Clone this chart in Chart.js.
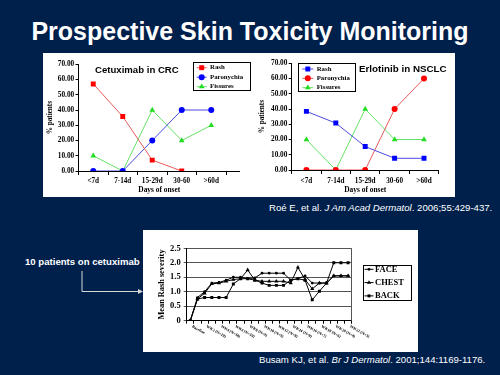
<!DOCTYPE html>
<html>
<head>
<meta charset="utf-8">
<title>Prospective Skin Toxicity Monitoring</title>
<script src="https://cdn.jsdelivr.net/npm/chart.js@4.4.1/dist/chart.umd.min.js"></script>
<style>
  html, body { margin: 0; padding: 0; }
  body { width: 500px; height: 375px; background: #00204c; position: relative; overflow: hidden;
         font-family: "Liberation Sans", Arial, sans-serif; }
  .txt { position: absolute; white-space: nowrap; }
  #title { left: 0; width: 500px; top: 16px; text-align: center; color: #fff; font-weight: bold; font-size: 25px; line-height: 30px; }
  .panel { position: absolute; background: #fff; }
  canvas { position: absolute; }
  .ctitle { font-weight: bold; color: #000; line-height: 10px; }
  .cite { color: #fff; font-size: 9.6px; line-height: 10px; }
  #note { color: #fff; font-weight: bold; font-size: 9.6px; line-height: 10px; left: 25px; top: 257px; }
</style>
</head>
<body>
<div id="title" class="txt">Prospective Skin Toxicity Monitoring</div>
<div class="panel" style="left:43px; top:53px; width:412px; height:144px;"></div>
<div class="panel" style="left:143px; top:230px; width:275px; height:122px;"></div>
<canvas id="cetux" width="212" height="144" style="left:43px; top:53px;"></canvas>
<canvas id="erlo" width="200" height="144" style="left:255px; top:53px;"></canvas>
<canvas id="busam" width="275" height="122" style="left:143px; top:230px;"></canvas>
<div class="txt ctitle" style="left:95px; top:65px; font-size:9.6px;">Cetuximab in CRC</div>
<div class="txt ctitle" style="left:359px; top:64px; font-size:9.8px;">Erlotinib in NSCLC</div>
<div class="txt cite" style="left:269px; top:203px;">Roé E, et al. <i>J Am Acad Dermatol</i>. 2006;55:429-437.</div>
<div class="txt cite" style="left:259px; top:355px;">Busam KJ, et al. <i>Br J Dermatol</i>. 2001;144:1169-1176.</div>
<div id="note" class="txt">10 patients on cetuximab</div>
<svg class="txt" style="left:0; top:0;" width="500" height="375">
  <polyline points="82,271 82,291.5 139,291.5" fill="none" stroke="#d8d8d8" stroke-width="1"/>
  <polygon points="143,291.5 138,289 138,294" fill="#d8d8d8"/>
</svg>

<script>
// Roé et al. - % patients by days of onset
const onsetDays = ['<7d', '7-14d', '15-29d', '30-60', '>60d'];
const cetuxRash = [57.14, 35.71, 7.14, 0, null];
const cetuxParonychia = [0, 0, 20, 40, 40];
const cetuxFissures = [10, 0, 40, 20, 30];
const erloRash = [38.46, 30.77, 15.38, 7.69, 7.69];
const erloParonychia = [0, 0, 0, 40, 60];
const erloFissures = [20, 0, 40, 20, 20];

// Busam et al. - mean rash severity, baseline to week 22
const weekLabels = ['Baseline', '', 'WK2 (N=10)', '', 'WK4 (N=10)', '', 'WK6 (N=10)', '', 'WK8 (N=9)', '',
  'WK10 (N=9)', '', 'WK12 (N=8)', '', 'WK14 (N=8)', '', 'WK16 (N=7)', '', 'WK18 (N=6)', '', 'WK20 (N=4)', '', 'WK22 (N=3)'];
const faceScore = [0, 0.8, 1.0, 1.3, 1.32, 1.4, 1.5, 1.5, 1.45, 1.48, 1.64, 1.64, 1.64, 1.64, 1.4, 1.45, 1.55, 1.3, 1.3, 1.3, 1.55, 1.55, 1.55];
const chestScore = [0, 0.75, 0.95, 1.27, 1.3, 1.36, 1.42, 1.45, 1.75, 1.4, 1.36, 1.36, 1.36, 1.36, 1.3, 1.84, 1.42, 1.1, 1.3, 1.3, 1.55, 1.55, 1.55];
const backScore = [0, 0.75, 0.8, 0.8, 0.8, 0.8, 1.27, 1.45, 1.45, 1.4, 1.3, 1.22, 1.22, 1.22, 1.4, 1.45, 1.4, 0.72, 1.02, 1.3, 2.0, 2.0, 2.0];

const ink = '#000';
const serif = '"Liberation Serif", "Times New Roman", serif';
const bold = size => ({ family: serif, size: size, weight: 'bold' });

function drawMarker(ctx, style, x, y, r, color) {
    ctx.fillStyle = color;
    ctx.beginPath();
    if (style === 'rect') {
        const s = r * Math.SQRT1_2;
        ctx.rect(x - s, y - s, 2 * s, 2 * s);
    } else if (style === 'triangle') {
        ctx.moveTo(x, y - r);
        ctx.lineTo(x + r * 0.866, y + r * 0.5);
        ctx.lineTo(x - r * 0.866, y + r * 0.5);
        ctx.closePath();
    } else {
        ctx.arc(x, y, r, 0, Math.PI * 2);
    }
    ctx.fill();
}

// boxed legend like the original figures
const boxLegend = {
    id: 'boxLegend',
    afterDraw(chart, args, o) {
        const ctx = chart.ctx;
        ctx.save();
        ctx.strokeStyle = ink;
        ctx.lineWidth = 1;
        ctx.strokeRect(Math.round(o.x) + 0.5, Math.round(o.y) + 0.5, Math.round(o.w), Math.round(o.h));
        ctx.font = 'bold ' + o.size + 'px ' + serif;
        ctx.textBaseline = 'middle';
        ctx.textAlign = 'left';
        chart.data.datasets.forEach((ds, i) => {
            const y = o.y + o.first + i * o.step;
            ctx.strokeStyle = ds.borderColor;
            ctx.lineWidth = ds.borderWidth;
            ctx.beginPath();
            ctx.moveTo(o.lx, y);
            ctx.lineTo(o.lx + o.lw, y);
            ctx.stroke();
            drawMarker(ctx, ds.pointStyle, o.lx + o.lw / 2, y, ds.pointRadius, ds.pointBackgroundColor);
            ctx.fillStyle = ink;
            ctx.fillText(ds.label, o.tx, y);
        });
        ctx.restore();
    }
};

// axis extension, x titles, plot frame, slanted week labels
const decor = {
    id: 'decor',
    afterDraw(chart, args, o) {
        const { ctx, chartArea: a } = chart;
        const yb = Math.round(a.bottom - 0.5) + 0.5;
        ctx.save();
        ctx.strokeStyle = ink;
        ctx.lineWidth = 1;
        if (o.extend) {
            ctx.beginPath();
            ctx.moveTo(a.right, yb);
            ctx.lineTo(a.right + o.extend, yb);
            ctx.stroke();
        }
        if (o.frame) {
            const xr = Math.round(a.right - 0.5) + 0.5;
            ctx.strokeStyle = '#555';
            ctx.beginPath();
            ctx.moveTo(xr, a.top);
            ctx.lineTo(xr, a.bottom);
            ctx.stroke();
        }
        ctx.fillStyle = ink;
        if (o.xTitle) {
            ctx.font = 'bold ' + o.xTitleSize + 'px ' + serif;
            ctx.textAlign = 'center';
            ctx.textBaseline = 'middle';
            ctx.fillText(o.xTitle, (a.left + a.right + (o.extend || 0)) / 2, o.xTitleY);
        }
        if (o.slant) {
            const xs = chart.scales.x;
            ctx.font = 'bold ' + o.slantSize + 'px ' + serif;
            ctx.textAlign = 'left';
            ctx.textBaseline = 'middle';
            chart.data.labels.forEach((t, i) => {
                if (!t) return;
                ctx.save();
                ctx.translate(xs.getPixelForValue(i) + 2, a.bottom + 5.5);
                ctx.rotate(0.52);
                ctx.fillText(t, 0, 0);
                ctx.restore();
            });
        }
        ctx.restore();
    }
};

function series(label, data, line, fill, style, r) {
    return {
        label: label, data: data, borderColor: line, borderWidth: 1, tension: 0,
        pointStyle: style, pointRadius: r, pointBackgroundColor: fill,
        pointBorderColor: fill, pointBorderWidth: 0
    };
}

function topChart(id, datasets, pad, yWidth, xHeight, tickPad, legend, extras) {
    return new Chart(document.getElementById(id), {
        type: 'line',
        data: { labels: onsetDays, datasets: datasets },
        options: {
            responsive: false,
            animation: false,
            layout: { padding: pad },
            plugins: {
                legend: { display: false },
                tooltip: { enabled: false },
                boxLegend: legend,
                decor: extras
            },
            scales: {
                x: {
                    type: 'category',
                    offset: true,
                    grid: { offset: true, drawOnChartArea: false, tickLength: 4, color: ink },
                    border: { color: ink, width: 1 },
                    ticks: { color: ink, font: bold(7.2), padding: tickPad, maxRotation: 0, autoSkip: false },
                    afterFit: s => { s.height = xHeight; }
                },
                y: {
                    min: 0,
                    max: 70,
                    ticks: { stepSize: 10, color: ink, font: bold(7.3), padding: 1.3, callback: v => v.toFixed(2) },
                    grid: { drawOnChartArea: false, tickLength: 3, color: ink },
                    border: { color: ink, width: 1 },
                    title: { display: true, text: '% patients', color: ink, font: bold(7.2), padding: { top: 3, bottom: 0 } },
                    afterFit: s => { s.width = yWidth; }
                }
            }
        },
        plugins: [boxLegend, decor]
    });
}

topChart('cetux', [
    series('Rash', cetuxRash, '#e65a5a', '#ff0000', 'rect', 3.5),
    series('Paronychia', cetuxParonychia, '#4a4ae0', '#0000ff', 'circle', 3),
    series('Fissures', cetuxFissures, '#66e066', '#22dd22', 'triangle', 3.3)
], { left: 0, top: 11.3, right: 29, bottom: 0 }, 35.5, 26, 1.5,
   { x: 150.3, y: 9.3, w: 56.7, h: 27.7, first: 5.4, step: 9.5, lx: 153.7, lw: 10, tx: 167, size: 6.8 },
   { extend: 14, xTitle: 'Days of onset', xTitleY: 137, xTitleSize: 7.4 });

topChart('erlo', [
    series('Rash', erloRash, '#4a4ae0', '#0000ff', 'rect', 3.5),
    series('Paronychia', erloParonychia, '#e65a5a', '#ff0000', 'circle', 3),
    series('Fissures', erloFissures, '#66e066', '#22dd22', 'triangle', 3.3)
], { left: 0, top: 10.3, right: 16.3, bottom: 0 }, 36.7, 27, 2.5,
   { x: 43.3, y: 10.3, w: 56.7, h: 28.4, first: 5.7, step: 9.35, lx: 47.3, lw: 11, tx: 61.7, size: 6.8 },
   { extend: 0, xTitle: 'Days of onset', xTitleY: 137, xTitleSize: 7.4 });

// Busam chart
new Chart(document.getElementById('busam'), {
    type: 'line',
    data: {
        labels: weekLabels,
        datasets: [
            series('FACE', faceScore, ink, ink, 'circle', 1.4),
            series('CHEST', chestScore, ink, ink, 'triangle', 2.4),
            series('BACK', backScore, ink, ink, 'rect', 2.1)
        ]
    },
    options: {
        responsive: false,
        animation: false,
        layout: { padding: { left: 0, top: 18.3, right: 66.3, bottom: 0 } },
        plugins: {
            legend: { display: false },
            tooltip: { enabled: false },
            boxLegend: { x: 219.7, y: 35, w: 48, h: 35, first: 4.3, step: 13.3, lx: 221.5, lw: 9, tx: 232, size: 8.5 },
            decor: { frame: true, slant: true, slantSize: 4 }
        },
        scales: {
            x: {
                type: 'category',
                offset: true,
                grid: { offset: true, drawOnChartArea: false, tickLength: 3, color: ink },
                border: { color: ink, width: 1 },
                ticks: { display: false },
                afterFit: s => { s.height = 31.3; }
            },
            y: {
                min: 0,
                max: 2.5,
                ticks: { stepSize: 0.5, color: ink, font: bold(8.5), padding: 3 },
                grid: { color: '#555', tickLength: 3 },
                border: { color: ink, width: 1 },
                title: { display: true, text: 'Mean Rash severity', color: ink, font: bold(8.3), padding: { top: 13.7, bottom: 0 } },
                afterFit: s => { s.width = 43.7; }
            }
        }
    },
    plugins: [boxLegend, decor]
});
</script>
</body>
</html>
